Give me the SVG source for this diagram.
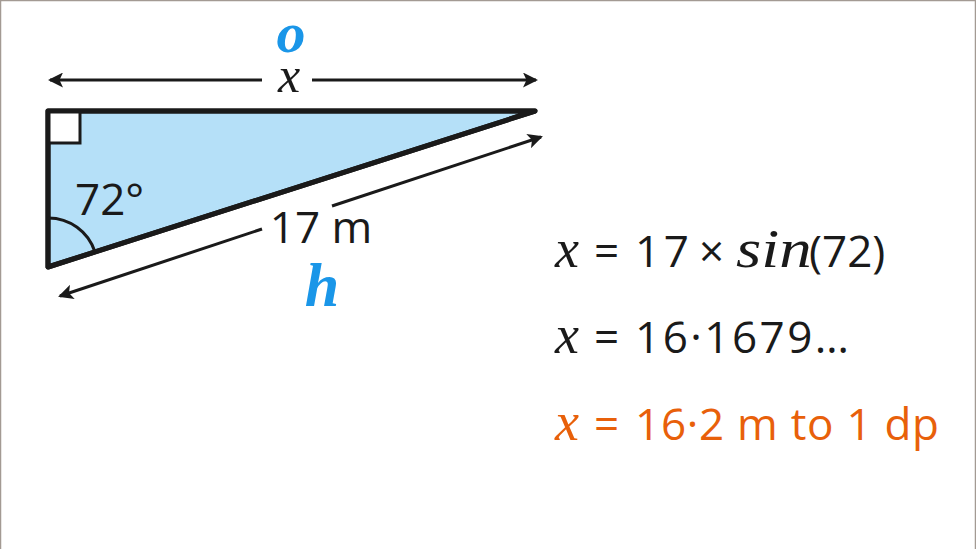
<svg xmlns="http://www.w3.org/2000/svg" width="976" height="549" viewBox="0 0 976 549">
<style>
.tri{fill:#b5e0f8;stroke:#1a1a1a;stroke-width:5;stroke-linejoin:round}
.ln{fill:none;stroke:#1a1a1a;stroke-width:3}
.thin{fill:none;stroke:#1a1a1a;stroke-width:3}
.sans{font-family:"Open Sans","Noto Sans",sans-serif;font-size:44px;fill:#1a1a1a}
.it{font-family:"Liberation Serif","DejaVu Serif",serif;font-style:italic}
.blue{fill:#1a96e8}
.orange{fill:#e8600a}
</style>
<defs>
<marker id="ah" viewBox="0 0 15 15" refX="13" refY="7.5" markerWidth="15" markerHeight="15" markerUnits="userSpaceOnUse" orient="auto-start-reverse">
<path d="M0,0 L15,7.5 L0,15 L3.5,7.5 Z" fill="#1a1a1a"/>
</marker>
</defs>
<rect x="0" y="0" width="976" height="549" fill="#ffffff"/>
<path d="M0.5,549 V0.5 H975.5 V549" fill="none" stroke="#a39a93" stroke-width="1.5"/>
<g id="triangle">
<polygon class="tri" points="48,111 535,111 48,267"/>
<rect x="48" y="111" width="32" height="32" fill="#ffffff" stroke="#1a1a1a" stroke-width="3"/>
<polygon class="tri" points="48,111 535,111 48,267" style="fill:none"/>
<path d="M48,218 A49,49 0 0 1 95,252" class="thin"/>
</g>
<g id="connectors">
<line class="ln" x1="50" y1="80" x2="262" y2="80" marker-start="url(#ah)"/>
<line class="ln" x1="312" y1="80" x2="536" y2="80" marker-end="url(#ah)"/>
<line class="ln" x1="60" y1="296" x2="262" y2="229" marker-start="url(#ah)"/>
<line class="ln" x1="332" y1="206" x2="541" y2="137" marker-end="url(#ah)"/>
</g>
<g id="labels">
<text x="291" y="52" class="it blue" font-size="58" font-weight="bold" text-anchor="middle">o</text>
<text x="289" y="92" class="it" font-size="50" fill="#1a1a1a" text-anchor="middle">x</text>
<text x="75" y="215" class="sans" font-size="42">72°</text>
<text x="321" y="243" class="sans" text-anchor="middle">17 m</text>
<text x="322" y="306" class="it blue" font-size="62" font-weight="bold" text-anchor="middle">h</text>
</g>
<g id="equations">
<text y="267" class="sans"><tspan x="555" class="it" font-size="54">x</tspan><tspan x="594">=</tspan><tspan x="635" textLength="54" lengthAdjust="spacing">17</tspan><tspan x="699">×</tspan><tspan x="809">(72)</tspan></text>
<text transform="translate(736,267) scale(1.2,1)" class="it" font-size="54" fill="#1a1a1a">sin</text>
<text y="353" class="sans"><tspan x="555" class="it" font-size="54">x</tspan><tspan x="594">=</tspan><tspan x="635" textLength="214" lengthAdjust="spacing">16·1679…</tspan></text>
<text y="440" class="sans orange"><tspan x="555" class="it" font-size="54">x</tspan><tspan x="594">=</tspan><tspan x="635" textLength="304" lengthAdjust="spacing">16·2 m to 1 dp</tspan></text>
</g>
</svg>
